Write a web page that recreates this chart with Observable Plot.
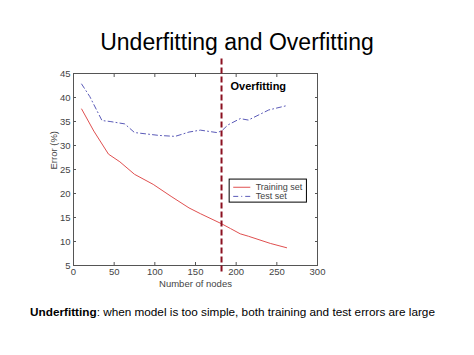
<!DOCTYPE html>
<html>
<head>
<meta charset="utf-8">
<script src="https://cdn.jsdelivr.net/npm/d3@7"></script>
<script src="https://cdn.jsdelivr.net/npm/@observablehq/plot@0.6"></script>
<style>
  html, body { margin: 0; padding: 0; background: #fff; }
  #wrap { position: relative; width: 474px; height: 355px; overflow: hidden; font-family: "Liberation Sans", Arial, sans-serif; }
  #title { position: absolute; left: 0; width: 474px; top: 29px; text-align: center; font-size: 23px; color: #000; }
  #caption { position: absolute; left: 0; width: 465px; top: 305px; text-align: center; font-size: 11.75px; color: #000; }
  #wrap svg { position: absolute; left: 0; top: 0; }
</style>
</head>
<body>
<div id="wrap">
  <div id="title">Underfitting and Overfitting</div>
  <div id="caption"><b>Underfitting</b>: when model is too simple, both training and test errors are large</div>
</div>
<script>
const trainNodes = [10, 25, 43, 57, 75, 98, 120, 142, 156, 182, 193, 205, 215, 242, 262];
const trainError = [37.6, 33, 28.2, 26.6, 24, 21.9, 19.4, 17, 15.8, 13.7, 12.7, 11.6, 11.1, 9.6, 8.7];
const testNodes = [10, 20, 35, 45, 63, 75, 90, 105, 125, 142, 156, 176, 182, 190, 205, 215, 240, 262];
const testError = [42.8, 40.2, 35.2, 35, 34.5, 32.7, 32.4, 32.1, 31.9, 32.8, 33.2, 32.7, 33, 34.3, 35.6, 35.3, 37.4, 38.3];
const xTicks = [0, 50, 100, 150, 200, 250, 300];
const yTicks = [5, 10, 15, 20, 25, 30, 35, 40, 45];
const cutoff = 182;
const seriesNames = ["Training set", "Test set"];
const annotation = "Overfitting";

const train = trainNodes.map((x, i) => ({x, y: trainError[i]}));
const test = testNodes.map((x, i) => ({x, y: testError[i]}));

const red = "#e05050";
const blue = "#5a5ab8";
const axisColor = "#555";

const chart = Plot.plot({
  width: 474,
  height: 355,
  marginLeft: 73,
  marginRight: 157,
  marginTop: 73,
  marginBottom: 90,
  style: {fontFamily: "Liberation Sans, Arial, sans-serif", fontSize: "9.5px", color: "#444", background: "transparent"},
  x: {domain: [0, 300]},
  y: {domain: [5, 45]},
  marks: [
    Plot.frame({stroke: axisColor, strokeWidth: 1}),
    Plot.axisX(xTicks, {anchor: "bottom", tickSize: -3, tickPadding: 6, label: null, stroke: axisColor, fill: "#444"}),
    Plot.axisX(xTicks, {anchor: "top", tickSize: -3, tickFormat: () => "", label: null, stroke: axisColor}),
    Plot.axisY(yTicks, {anchor: "left", tickSize: -3, tickPadding: 6, label: null, stroke: axisColor, fill: "#444"}),
    Plot.axisY(yTicks, {anchor: "right", tickSize: -3, tickFormat: () => "", label: null, stroke: axisColor}),
    Plot.text(["Number of nodes"], {frameAnchor: "bottom", dy: 21, fontSize: 9.5, fill: "#444"}),
    Plot.text(["Error (%)"], {frameAnchor: "left", dx: -20, rotate: -90, fontSize: 9.5, fill: "#444"}),
    Plot.line(train, {x: "x", y: "y", stroke: red, strokeWidth: 1}),
    Plot.line(test, {x: "x", y: "y", stroke: blue, strokeWidth: 1, strokeDasharray: "5,3,1,3"}),
    Plot.ruleX([cutoff], {y1: 48, y2: 3, stroke: "#8b1020", strokeWidth: 2, strokeDasharray: "6,3", clip: false}),
    Plot.text([annotation], {x: 193, y: 42.4, text: d => d, textAnchor: "start", fontWeight: "bold", fontSize: 11, fill: "#000"}),
    // legend box
    Plot.rect([{}], {x1: 192, x2: 287, y1: 18.1, y2: 22.9, fill: "white", stroke: "#000", strokeWidth: 1}),
    Plot.ruleY([21.3], {x1: 197, x2: 218, stroke: red, strokeWidth: 1}),
    Plot.ruleY([19.4], {x1: 197, x2: 218, stroke: blue, strokeWidth: 1, strokeDasharray: "5,3,1,3"}),
    Plot.text([seriesNames[0], seriesNames[1]], {x: 224, y: [21.3, 19.4], text: d => d, textAnchor: "start", fontSize: 9, fill: "#444"})
  ]
});
document.getElementById("wrap").prepend(chart);
</script>
</body>
</html>
